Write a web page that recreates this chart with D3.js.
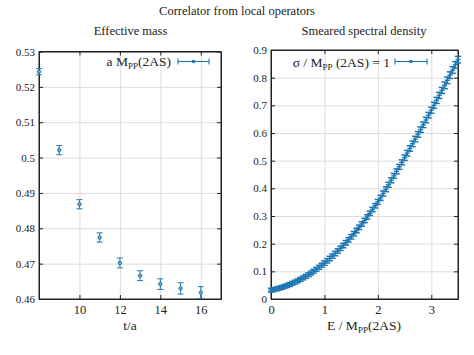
<!DOCTYPE html>
<html><head><meta charset="utf-8">
<script src="https://cdn.jsdelivr.net/npm/d3@7"></script>
<style>
body{margin:0;background:#fff}
svg text{font-family:"Liberation Serif","DejaVu Serif",serif !important;fill:#222}
</style>
</head><body>
<svg id="c" width="474" height="355"></svg>
<script>
// ---- data ----
const tSteps = [8, 9, 10, 11, 12, 13, 14, 15, 16];
const meffValues = [0.5243, 0.5021, 0.4868, 0.4774, 0.4702, 0.4666, 0.4642, 0.4630, 0.4618];
const meffErrors = [0.0009, 0.0013, 0.0013, 0.0013, 0.0014, 0.0014, 0.0015, 0.0016, 0.0017];

const energies = [0,0.05,0.1,0.15,0.2,0.25,0.3,0.35,0.4,0.45,0.5,0.55,0.6,0.65,0.7,0.75,0.8,0.85,0.9,0.95,
  1,1.05,1.1,1.15,1.2,1.25,1.3,1.35,1.4,1.45,1.5,1.55,1.6,1.65,1.7,1.75,1.8,1.85,1.9,1.95,
  2,2.05,2.1,2.15,2.2,2.25,2.3,2.35,2.4,2.45,2.5,2.55,2.6,2.65,2.7,2.75,2.8,2.85,2.9,2.95,
  3,3.05,3.1,3.15,3.2,3.25,3.3,3.35,3.4,3.45,3.5];
const rhoValues = [0.0320,0.0340,0.0363,0.0389,0.0418,0.0451,0.0486,0.0524,0.0566,0.0610,
  0.0658,0.0708,0.0762,0.0818,0.0878,0.0941,0.1006,0.1075,0.1147,0.1222,
  0.1300,0.1381,0.1465,0.1552,0.1642,0.1736,0.1832,0.1931,0.2034,0.2139,
  0.2248,0.2359,0.2474,0.2591,0.2712,0.2836,0.2965,0.3098,0.3235,0.3370,
  0.3510,0.3656,0.3812,0.3970,0.4129,0.4289,0.4450,0.4612,0.4776,0.4940,
  0.5106,0.5272,0.5440,0.5609,0.5779,0.5950,0.6122,0.6295,0.6470,0.6645,
  0.6822,0.7000,0.7179,0.7359,0.7540,0.7722,0.7905,0.8090,0.8275,0.8462,0.8650];
const rhoErrors = [0.007,0.007,0.007,0.007,0.007,0.007,0.007,0.007,0.007,0.007,
  0.007,0.007,0.007,0.007,0.007,0.007,0.007,0.007,0.007,0.007,
  0.008,0.008,0.008,0.008,0.008,0.008,0.008,0.008,0.008,0.008,
  0.008,0.008,0.008,0.008,0.008,0.008,0.008,0.008,0.008,0.008,
  0.009,0.009,0.009,0.009,0.009,0.009,0.009,0.009,0.009,0.009,
  0.010,0.010,0.010,0.010,0.010,0.010,0.010,0.010,0.010,0.010,
  0.011,0.011,0.011,0.011,0.011,0.012,0.012,0.012,0.012,0.012,0.012];

const leftXTicks = [10, 12, 14, 16];
const leftYTicks = [0.46, 0.47, 0.48, 0.49, 0.5, 0.51, 0.52, 0.53];
const leftYLabels = ["0.46","0.47","0.48","0.49","0.5","0.51","0.52","0.53"];
const rightXTicks = [0, 1, 2, 3];
const rightYTicks = [0, 0.1, 0.2, 0.3, 0.4, 0.5, 0.6, 0.7, 0.8, 0.9];
const rightYLabels = ["0","0.1","0.2","0.3","0.4","0.5","0.6","0.7","0.8","0.9"];

// ---- drawing ----
const FONT = "'Liberation Serif','DejaVu Serif',serif";
const svg = d3.select("#c").style("font-family", FONT);
const blue = "#1f78b4";

svg.append("text").attr("x", 237).attr("y", 15).attr("text-anchor","middle")
  .attr("font-size", 12.5).text("Correlator from local operators");

function panel(o) {
  const g = svg.append("g").attr("transform", `translate(${o.x},${o.y})`);
  const w = o.w, h = o.h;
  const x = d3.scaleLinear().domain(o.xd).range([0, w]);
  const y = d3.scaleLinear().domain(o.yd).range([h, 0]);
  g.append("g").attr("transform", `translate(0,${h})`)
    .call(d3.axisBottom(x).tickValues(o.xt).tickSize(-h).tickFormat(""))
    .call(a => { a.select(".domain").remove(); a.selectAll("line").attr("stroke","#dcdcdc"); });
  g.append("g")
    .call(d3.axisLeft(y).tickValues(o.yt).tickSize(-w).tickFormat(""))
    .call(a => { a.select(".domain").remove(); a.selectAll("line").attr("stroke","#dcdcdc"); });
  const styleAx = a => {
    a.attr("font-family", FONT);
    a.select(".domain").attr("stroke","#222");
    a.selectAll("line").attr("stroke","#222");
    a.selectAll("text").attr("font-size", o.fs).attr("fill","#222");
  };
  g.append("g").attr("transform", `translate(0,${h})`)
    .call(d3.axisBottom(x).tickValues(o.xt).tickSize(-4).tickPadding(6).tickSizeOuter(0).tickFormat(d3.format("d")))
    .call(styleAx).call(a => a.selectAll("text").attr("font-size", o.xfs));
  g.append("g")
    .call(d3.axisLeft(y).tickValues(o.yt).tickSize(-4).tickPadding(4).tickSizeOuter(0)
      .tickFormat((d, i) => o.yl[i]))
    .call(styleAx);
  g.append("g")
    .call(d3.axisTop(x).tickValues(o.xt).tickSize(-4).tickSizeOuter(0).tickFormat(""))
    .call(styleAx);
  g.append("g").attr("transform", `translate(${w},0)`)
    .call(d3.axisRight(y).tickValues(o.yt).tickSize(-4).tickSizeOuter(0).tickFormat(""))
    .call(styleAx);
  g.append("rect").attr("width", w).attr("height", h).attr("fill","none").attr("stroke","#222");
  return {g, x, y, w, h};
}

// left panel
const L = panel({x: 39, y: 51.5, w: 182, h: 247.5, xd: [8, 17], yd: [0.46, 0.53],
  xt: leftXTicks, yt: leftYTicks, yl: leftYLabels, fs: 11, xfs: 12.5});
const ld = tSteps.map((t, i) => ({t, v: meffValues[i], e: meffErrors[i]}));
const lp = L.g.append("g").attr("stroke", blue).attr("stroke-width", 1);
lp.selectAll("line.v").data(ld).join("line")
  .attr("x1", d => L.x(d.t)).attr("x2", d => L.x(d.t))
  .attr("y1", d => L.y(d.v - d.e)).attr("y2", d => L.y(d.v + d.e));
lp.selectAll("line.t").data(ld).join("line")
  .attr("x1", d => L.x(d.t) - 3).attr("x2", d => L.x(d.t) + 3)
  .attr("y1", d => L.y(d.v + d.e)).attr("y2", d => L.y(d.v + d.e));
lp.selectAll("line.b").data(ld).join("line")
  .attr("x1", d => L.x(d.t) - 3).attr("x2", d => L.x(d.t) + 3)
  .attr("y1", d => L.y(d.v - d.e)).attr("y2", d => L.y(d.v - d.e));
lp.selectAll("circle").data(ld).join("circle")
  .attr("cx", d => L.x(d.t)).attr("cy", d => L.y(d.v)).attr("r", 1.7)
  .attr("fill", "#6aaed3").attr("stroke", "#2478a8");

// right panel
const R = panel({x: 271, y: 50, w: 187, h: 249, xd: [0, 3.5], yd: [0, 0.9],
  xt: rightXTicks, yt: rightYTicks, yl: rightYLabels, fs: 11, xfs: 12.5});
const rd = energies.map((E, i) => ({E, v: rhoValues[i], e: rhoErrors[i]}));
const rp = R.g.append("g").attr("stroke", blue).attr("stroke-width", 1.5);
rd.forEach(d => {
  const cx = R.x(d.E), y0 = R.y(d.v - d.e), y1 = R.y(d.v + d.e), yc = R.y(d.v);
  rp.append("line").attr("x1", cx).attr("x2", cx).attr("y1", y0).attr("y2", y1);
  rp.append("line").attr("x1", cx - 3.2).attr("x2", cx + 3.2).attr("y1", y0).attr("y2", y0);
  rp.append("line").attr("x1", cx - 3.2).attr("x2", cx + 3.2).attr("y1", y1).attr("y2", y1);
  rp.append("line").attr("x1", cx - 2.5).attr("x2", cx + 2.5).attr("y1", yc).attr("y2", yc);
});

// subtitles
svg.append("text").attr("x", 130.5).attr("y", 35).attr("text-anchor","middle").attr("font-size", 12.5).text("Effective mass");
svg.append("text").attr("x", 364).attr("y", 35).attr("text-anchor","middle").attr("font-size", 12.5).text("Smeared spectral density");

// axis titles
svg.append("text").attr("x", 130).attr("y", 330).attr("text-anchor","middle").attr("font-size", 13.5).text("t/a");
const xt2 = svg.append("text").attr("x", 364).attr("y", 330).attr("text-anchor","middle").attr("font-size", 13.5);
xt2.append("tspan").text("E / M");
xt2.append("tspan").attr("font-size", 9).attr("dy", 3).text("PP");
xt2.append("tspan").attr("dy", -3).text("(2AS)");

// legends
function legendSample(x0, x1, yy) {
  const s = svg.append("g").attr("stroke", blue).attr("stroke-width", 1.1);
  s.append("line").attr("x1", x0).attr("x2", x1).attr("y1", yy).attr("y2", yy);
  s.append("line").attr("x1", x0).attr("x2", x0).attr("y1", yy - 3).attr("y2", yy + 3);
  s.append("line").attr("x1", x1).attr("x2", x1).attr("y1", yy - 3).attr("y2", yy + 3);
  svg.append("circle").attr("cx", (x0 + x1) / 2).attr("cy", yy).attr("r", 1.8).attr("fill", blue);
}
const lg1 = svg.append("text").attr("x", 171).attr("y", 66).attr("text-anchor","end").attr("font-size", 13.5);
lg1.append("tspan").text("a M");
lg1.append("tspan").attr("font-size", 9).attr("dy", 3).text("PP");
lg1.append("tspan").attr("dy", -3).text("(2AS)");
legendSample(178, 209, 61.5);

const lg2 = svg.append("text").attr("x", 390).attr("y", 67).attr("text-anchor","end").attr("font-size", 13.5);
lg2.append("tspan").text("σ / M");
lg2.append("tspan").attr("font-size", 9).attr("dy", 3).text("PP");
lg2.append("tspan").attr("dy", -3).text(" (2AS) = 1");
legendSample(395, 427, 61.5);
</script>
</body></html>
